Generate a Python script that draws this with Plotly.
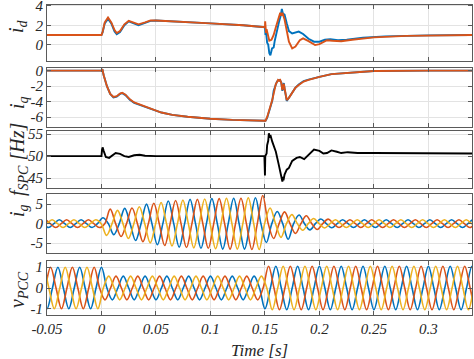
import plotly.graph_objects as go
from plotly.subplots import make_subplots

# ---------------- data ----------------
# i_d
t_id_b = [-0.05, 0, 0.001, 0.003, 0.006, 0.009, 0.012, 0.014, 0.017, 0.021, 0.025, 0.03, 0.034, 0.04, 0.045,
          0.05, 0.07, 0.1, 0.13, 0.1495, 0.1500, 0.1505, 0.151, 0.152, 0.153, 0.154, 0.155, 0.1565, 0.158,
          0.159, 0.161, 0.163, 0.1645, 0.1655, 0.1665, 0.168, 0.170, 0.172, 0.175, 0.178, 0.181, 0.185,
          0.19, 0.195, 0.2, 0.205, 0.21, 0.217, 0.225, 0.24, 0.26, 0.3, 0.34]
id_b = [1.0, 1.0, 1.25, 2.2, 2.65, 2.2, 1.35, 1.07, 1.3, 2.0, 2.4, 2.2, 2.0, 2.25, 2.45,
        2.5, 2.4, 2.2, 2.0, 1.85, 1.8, 1.0, 1.3, 0.2, 0.0, -0.9, -1.1, -0.4, -0.3,
        0.4, 1.5, 2.4, 3.0, 3.7, 3.2, 3.1, 2.2, 1.4, 1.15, 1.25, 1.35, 1.1,
        0.6, 0.3, 0.3, 0.5, 0.55, 0.45, 0.5, 0.7, 0.85, 0.95, 1.0]
t_id_o = [-0.05, 0, 0.001, 0.003, 0.006, 0.009, 0.012, 0.014, 0.017, 0.021, 0.025, 0.03, 0.034, 0.04, 0.045,
          0.05, 0.07, 0.1, 0.13, 0.1495, 0.1500, 0.1502, 0.151, 0.1515, 0.1525, 0.154, 0.156, 0.158, 0.160,
          0.162, 0.163, 0.164, 0.165, 0.166, 0.168, 0.170, 0.172, 0.175, 0.178, 0.182, 0.185, 0.19,
          0.196, 0.2, 0.207, 0.212, 0.22, 0.23, 0.25, 0.28, 0.3, 0.34]
id_o = [1.0, 1.0, 1.3, 2.3, 2.8, 2.3, 1.5, 1.2, 1.4, 2.1, 2.45, 2.25, 2.1, 2.3, 2.5,
        2.5, 2.4, 2.2, 2.0, 1.85, 1.8, 2.4, 1.2, 1.6, 1.0, 0.4, 0.5, 1.0, 1.8,
        2.6, 3.0, 3.3, 3.0, 3.3, 2.6, 1.3, 0.3, -0.4, -0.2, 0.45, 0.65, 0.35,
        -0.05, 0.05, 0.45, 0.4, 0.35, 0.5, 0.75, 0.9, 0.95, 1.0]

# i_q
t_iq = [-0.05, 0, 0.0008, 0.002, 0.005, 0.008, 0.011, 0.014, 0.017, 0.019, 0.022, 0.026, 0.03, 0.035,
        0.04, 0.047, 0.055, 0.065, 0.079, 0.1, 0.12, 0.1495, 0.1505, 0.152, 0.1536, 0.155, 0.1567,
        0.158, 0.16, 0.161, 0.162, 0.163, 0.164, 0.165, 0.166, 0.1673, 0.168, 0.17, 0.172, 0.175,
        0.178, 0.181, 0.1855, 0.19, 0.196, 0.2, 0.211, 0.226, 0.25, 0.3, 0.34]
iq_o = [0.0, 0.0, 0.2, -0.6, -2.0, -3.0, -3.4, -3.3, -2.95, -2.85, -3.1, -3.7, -4.1, -4.35,
        -4.55, -5.0, -5.4, -5.7, -5.95, -6.2, -6.35, -6.45, -6.45, -6.0, -5.1, -4.6, -3.8,
        -2.8, -1.7, -1.5, -1.2, -1.3, -1.2, -1.6, -2.5, -1.7, -2.2, -3.8, -3.5, -2.8,
        -2.2, -1.85, -1.4, -1.2, -0.9, -0.8, -0.45, -0.3, -0.05, 0.0, 0.0]
iq_b = [0.0, 0.0, 0.2, -0.6, -2.0, -3.0, -3.45, -3.35, -3.0, -2.9, -3.15, -3.75, -4.15, -4.4,
        -4.6, -5.05, -5.4, -5.7, -5.95, -6.2, -6.35, -6.45, -6.45, -6.1, -5.3, -4.4, -3.9,
        -2.6, -1.8, -1.4, -1.3, -1.2, -1.3, -1.5, -2.6, -1.6, -2.3, -3.9, -3.5, -2.8,
        -2.2, -1.8, -1.35, -1.15, -0.9, -0.8, -0.45, -0.3, -0.05, 0.0, 0.0]

# f_SPC
t_f = [-0.05, 0, 0.0005, 0.001, 0.002, 0.004, 0.007, 0.01, 0.013, 0.017, 0.021, 0.025, 0.03, 0.035,
       0.04, 0.05, 0.1, 0.1495, 0.15, 0.1503, 0.1515, 0.152, 0.153, 0.1536, 0.1545, 0.155, 0.1567,
       0.158, 0.16, 0.1627, 0.164, 0.165, 0.166, 0.1665, 0.167, 0.168, 0.17, 0.172, 0.175, 0.179,
       0.182, 0.186, 0.19, 0.195, 0.2, 0.2036, 0.207, 0.211, 0.216, 0.22, 0.226, 0.235, 0.25, 0.3, 0.34]
f_spc = [50, 50, 51.5, 52, 51.2, 49.8, 49.6, 50.1, 50.7, 50.5, 50.0, 49.8, 50.2, 50.3,
         50.1, 50, 50, 50, 45.6, 50, 50.6, 52.5, 53.5, 55.2, 54.2, 54.8, 53.3,
         52.5, 51, 48, 46.5, 45.5, 44.2, 45.3, 44.5, 45.8, 46.9, 47.3, 48.9, 49.6,
         49.8, 49.3, 50.2, 51.5, 51.2, 50.6, 50.7, 51.3, 51.0, 50.7, 50.9, 50.7, 50.7, 50.6, 50.6]

# three-phase signals: peak value of each half cycle (k = -7 ... 34), per phase
HALF_K0 = -7
# i_g  (first positive peak times of each phase)
ig_t0 = {"b": 0.0013, "o": 0.008, "y": 0.0147}
ig_amp_b = [1.0] * 7 + [1.5, 2.8, 3.9, 4.3, 5.0, 5.4, 5.8, 6.0, 6.2, 6.3, 6.4, 6.5, 6.5, 6.5, 6.6,
                        4.8, 3.1, 4.0, 2.2, 1.6, 1.2, 1.05] + [1.0] * 13
ig_amp_o = [1.0] * 7 + [3.7, 3.3, 4.0, 4.6, 5.2, 5.6, 5.9, 6.1, 6.2, 6.3, 6.4, 6.5, 6.5, 6.6, 7.2,
                        3.8, 3.0, 2.5, 2.0, 1.5, 1.15] + [1.0] * 14
ig_amp_y = [1.0] * 6 + [3.0, 3.4, 3.8, 4.3, 4.9, 5.4, 5.7, 6.0, 6.2, 6.3, 6.4, 6.5, 6.5, 6.6, 6.6,
                        4.0, 3.5, 2.3, 1.7, 1.3, 1.1] + [1.0] * 15
# v_PCC
v_t0 = {"b": 0.0, "o": 0.0133, "y": 0.0067}
v_amp_b = [1.0] * 7 + [1.0] + [0.57] * 14 + [1.0] + [1.05] * 19
v_amp_o = [1.0] * 6 + [0.57] * 15 + [1.05] * 21
v_amp_y = [1.0] * 7 + [0.57] * 15 + [1.05] * 20

x_ticks = [-0.05, 0, 0.05, 0.1, 0.15, 0.2, 0.25, 0.3]
x_ticktext = ["-0.05", "0", "0.05", "0.1", "0.15", "0.2", "0.25", "0.3"]
y_ticks = [[0, 2, 4], [-6, -4, -2, 0], [45, 50, 55], [-5, 0, 5], [-1, 0, 1]]
y_ranges = [[-1.7, 4.13], [-7.2, 0.3], [42.8, 55.8], [-7.5, 7.5], [-1.3, 1.3]]
y_labels = ["i<sub>d</sub>", "i<sub>q</sub>", "f<sub>SPC</sub> [Hz]", "i<sub>g</sub>", "v<sub>PCC</sub>"]

# ---------------- styling ----------------
BLUE, ORANGE, YELLOW, BLACK = "#0072BD", "#D95319", "#EDB120", "#000000"
FONT = "Liberation Serif"
TXT = "#262626"


def wave_points(t0, amps):
    xs, ys = [], []
    for i, a in enumerate(amps):
        k = HALF_K0 + i
        t = t0 + 0.01 * k
        s = 1 if k % 2 == 0 else -1
        xs += [t, t + 0.005]
        ys += [s * a, 0.0]
    return xs, ys


fig = make_subplots(rows=5, cols=1, shared_xaxes=True, vertical_spacing=0.0)

lw = 1.9
fig.add_trace(go.Scatter(x=t_id_b, y=id_b, mode="lines", line=dict(color=BLUE, width=lw)), row=1, col=1)
fig.add_trace(go.Scatter(x=t_id_o, y=id_o, mode="lines", line=dict(color=ORANGE, width=lw)), row=1, col=1)
fig.add_trace(go.Scatter(x=t_iq, y=iq_b, mode="lines", line=dict(color=BLUE, width=lw)), row=2, col=1)
fig.add_trace(go.Scatter(x=t_iq, y=iq_o, mode="lines", line=dict(color=ORANGE, width=lw)), row=2, col=1)
fig.add_trace(go.Scatter(x=t_f, y=f_spc, mode="lines", line=dict(color=BLACK, width=lw)), row=3, col=1)

for row, t0s, amps in [(4, ig_t0, {"b": ig_amp_b, "o": ig_amp_o, "y": ig_amp_y}),
                       (5, v_t0, {"b": v_amp_b, "o": v_amp_o, "y": v_amp_y})]:
    for key, col in [("b", BLUE), ("o", ORANGE), ("y", YELLOW)]:
        xs, ys = wave_points(t0s[key], amps[key])
        fig.add_trace(go.Scatter(x=xs, y=ys, mode="lines",
                                 line=dict(color=col, width=1.6, shape="spline", smoothing=1.0)),
                      row=row, col=1)

# domains
H, TOP, BOT = 359, 4, 44
ph = H - TOP - BOT
pix = [(4.7, 61), (68.3, 126.5), (130.7, 187.7), (194.3, 253), (261, 315)]
label_centers = [26, 103, 160, 211, 290]

tickfont = dict(family=FONT, size=15, color=TXT, style="italic")
common = dict(showgrid=True, gridcolor="#e3e3e3", gridwidth=1, zeroline=False,
              showline=True, linecolor="#5a5a5a", linewidth=1, mirror="ticks",
              ticks="inside", ticklen=4, tickcolor="#5a5a5a", tickfont=tickfont, automargin=False,
              ticklabeloverflow="allow")
fig.update_xaxes(range=[-0.05, 0.34], tickvals=x_ticks, ticktext=x_ticktext, showticklabels=False, **common)
fig.update_xaxes(showticklabels=True, row=5, col=1)
fig.update_yaxes(**common)

for i in range(5):
    y0, y1 = pix[i]
    fig.update_yaxes(domain=[(H - BOT - y1) / ph, (H - BOT - y0) / ph],
                     range=y_ranges[i], tickvals=y_ticks[i],
                     ticktext=[str(v) for v in y_ticks[i]], row=i + 1, col=1)
    fig.add_annotation(text=y_labels[i], xref="paper", yref="paper", x=0, xshift=18 - 47,
                       y=(H - BOT - label_centers[i]) / ph, xanchor="center", yanchor="middle",
                       textangle=-90, showarrow=False,
                       font=dict(family=FONT, size=20, color=TXT, style="italic"))

fig.add_annotation(text="Time [s]", xref="paper", yref="paper", x=0.5,
                   y=(H - BOT - 350) / ph, xanchor="center", yanchor="middle", showarrow=False,
                   font=dict(family=FONT, size=17, color=TXT, style="italic"))

fig.update_layout(template="none", width=474, height=359, autosize=False,
                  margin=dict(l=47, r=2, t=TOP, b=BOT, pad=0),
                  font=dict(family=FONT, size=15, color=TXT, style="italic"),
                  showlegend=False, plot_bgcolor="white", paper_bgcolor="white")

fig.write_html("out.html", config={"displayModeBar": False},
               post_script="document.body.style.margin='0';document.body.style.padding='0';")
